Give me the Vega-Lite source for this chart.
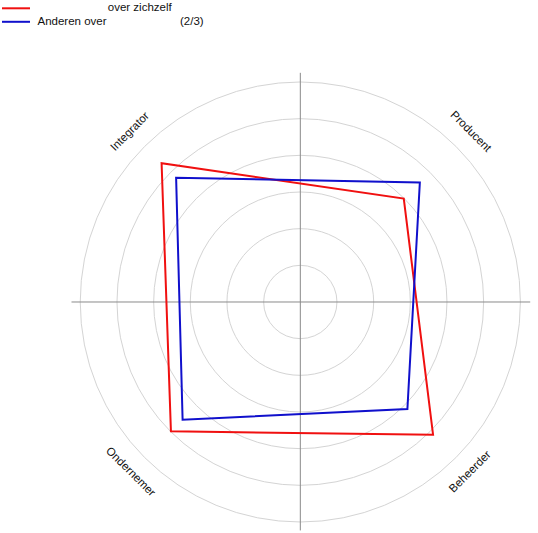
{
  "$schema": "https://vega.github.io/schema/vega-lite/v6.json",
  "autosize": "none",
  "padding": 0,
  "width": 538,
  "height": 533,
  "background": "white",
  "config": {
    "view": {"stroke": null},
    "font": "Liberation Sans"
  },
  "datasets": {
    "scores": [
      {"series": "\u200b\u00a0\u00a0\u00a0\u00a0\u00a0\u00a0\u00a0\u00a0\u00a0\u00a0\u00a0\u00a0\u00a0\u00a0\u00a0\u00a0\u00a0\u00a0\u00a0\u00a0\u00a0\u00a0over zichzelf", "role": "Producent", "value": 3.99},
      {"series": "\u200b\u00a0\u00a0\u00a0\u00a0\u00a0\u00a0\u00a0\u00a0\u00a0\u00a0\u00a0\u00a0\u00a0\u00a0\u00a0\u00a0\u00a0\u00a0\u00a0\u00a0\u00a0\u00a0over zichzelf", "role": "Beheerder", "value": 5.12},
      {"series": "\u200b\u00a0\u00a0\u00a0\u00a0\u00a0\u00a0\u00a0\u00a0\u00a0\u00a0\u00a0\u00a0\u00a0\u00a0\u00a0\u00a0\u00a0\u00a0\u00a0\u00a0\u00a0\u00a0over zichzelf", "role": "Ondernemer", "value": 4.99},
      {"series": "\u200b\u00a0\u00a0\u00a0\u00a0\u00a0\u00a0\u00a0\u00a0\u00a0\u00a0\u00a0\u00a0\u00a0\u00a0\u00a0\u00a0\u00a0\u00a0\u00a0\u00a0\u00a0\u00a0over zichzelf", "role": "Integrator", "value": 5.35},
      {"series": "Anderen over\u00a0\u00a0\u00a0\u00a0\u00a0\u00a0\u00a0\u00a0\u00a0\u00a0\u00a0\u00a0\u00a0\u00a0\u00a0\u00a0\u00a0\u00a0\u00a0\u00a0\u00a0\u00a0\u00a0(2/3)", "role": "Producent", "value": 4.61},
      {"series": "Anderen over\u00a0\u00a0\u00a0\u00a0\u00a0\u00a0\u00a0\u00a0\u00a0\u00a0\u00a0\u00a0\u00a0\u00a0\u00a0\u00a0\u00a0\u00a0\u00a0\u00a0\u00a0\u00a0\u00a0(2/3)", "role": "Beheerder", "value": 4.13},
      {"series": "Anderen over\u00a0\u00a0\u00a0\u00a0\u00a0\u00a0\u00a0\u00a0\u00a0\u00a0\u00a0\u00a0\u00a0\u00a0\u00a0\u00a0\u00a0\u00a0\u00a0\u00a0\u00a0\u00a0\u00a0(2/3)", "role": "Ondernemer", "value": 4.54},
      {"series": "Anderen over\u00a0\u00a0\u00a0\u00a0\u00a0\u00a0\u00a0\u00a0\u00a0\u00a0\u00a0\u00a0\u00a0\u00a0\u00a0\u00a0\u00a0\u00a0\u00a0\u00a0\u00a0\u00a0\u00a0(2/3)", "role": "Integrator", "value": 4.79}
    ],
    "rings": [{"r": 1}, {"r": 2}, {"r": 3}, {"r": 4}, {"r": 5}, {"r": 6}],
    "roles": [{"role": "Producent"}, {"role": "Beheerder"}, {"role": "Ondernemer"}, {"role": "Integrator"}]
  },
  "layer": [
    {
      "data": {"name": "rings"},
      "mark": {"type": "arc", "theta": 0, "theta2": 6.283185307179586, "fill": null, "filled": false, "stroke": "#d4d4d4", "strokeWidth": 1},
      "encoding": {
        "x": {"datum": 0, "type": "quantitative", "scale": {"domain": [-8.19, 6.482], "nice": false, "zero": false}, "axis": null},
        "y": {"datum": 0, "type": "quantitative", "scale": {"domain": [-6.3, 8.236], "nice": false, "zero": false}, "axis": null},
        "radius": {"field": "r", "type": "quantitative", "stack": null, "scale": {"type": "linear", "domain": [0, 6], "range": [0, 220], "zero": true}, "legend": null}
      }
    },
    {
      "data": {"values": [{}]},
      "mark": {"type": "rule", "stroke": "#8a8a8a", "strokeWidth": 1},
      "encoding": {
        "x": {"datum": 0, "type": "quantitative"},
        "y": {"datum": -6.23, "type": "quantitative"},
        "y2": {"datum": 6.25}
      }
    },
    {
      "data": {"values": [{}]},
      "mark": {"type": "rule", "stroke": "#8a8a8a", "strokeWidth": 1},
      "encoding": {
        "y": {"datum": 0, "type": "quantitative"},
        "x": {"datum": -6.24, "type": "quantitative"},
        "x2": {"datum": 6.27}
      }
    },
    {
      "data": {"name": "scores"},
      "transform": [
        {"calculate": "indexof(['Producent','Beheerder','Ondernemer','Integrator'], datum.role) * PI / 2 + PI / 4", "as": "a"},
        {"calculate": "datum.value * sin(datum.a)", "as": "px"},
        {"calculate": "datum.value * cos(datum.a)", "as": "py"}
      ],
      "mark": {"type": "line", "interpolate": "linear-closed", "strokeWidth": 2},
      "encoding": {
        "x": {"field": "px", "type": "quantitative"},
        "y": {"field": "py", "type": "quantitative"},
        "order": {"field": "a", "type": "quantitative"},
        "color": {
          "field": "series",
          "type": "nominal",
          "scale": {
            "domain": [
              "\u200b\u00a0\u00a0\u00a0\u00a0\u00a0\u00a0\u00a0\u00a0\u00a0\u00a0\u00a0\u00a0\u00a0\u00a0\u00a0\u00a0\u00a0\u00a0\u00a0\u00a0\u00a0\u00a0over zichzelf",
              "Anderen over\u00a0\u00a0\u00a0\u00a0\u00a0\u00a0\u00a0\u00a0\u00a0\u00a0\u00a0\u00a0\u00a0\u00a0\u00a0\u00a0\u00a0\u00a0\u00a0\u00a0\u00a0\u00a0\u00a0(2/3)"
            ],
            "range": ["#f01010", "#1010cc"]
          },
          "legend": {
            "title": null,
            "orient": "none",
            "legendX": 0,
            "legendY": 1.8,
            "padding": 0,
            "symbolType": "M-2.545,0H2.545",
            "symbolSize": 121,
            "symbolStrokeWidth": 2,
            "symbolFillColor": "transparent",
            "symbolOffset": 9.5,
            "labelOffset": 15,
            "rowPadding": 1.5,
            "labelFont": "Liberation Sans",
            "labelFontSize": 11.5,
            "labelColor": "#111111",
            "labelLimit": 400
          }
        }
      }
    },
    {
      "data": {"name": "roles"},
      "transform": [
        {"filter": "datum.role === 'Producent' || datum.role === 'Ondernemer'"},
        {"calculate": "indexof(['Producent','Beheerder','Ondernemer','Integrator'], datum.role) * PI / 2 + PI / 4", "as": "a"},
        {"calculate": "6.56 * sin(datum.a)", "as": "px"},
        {"calculate": "6.56 * cos(datum.a)", "as": "py"}
      ],
      "mark": {"type": "text", "angle": 45, "align": "center", "baseline": "middle", "fontSize": 11.5, "font": "Liberation Sans", "color": "#111111"},
      "encoding": {
        "x": {"field": "px", "type": "quantitative"},
        "y": {"field": "py", "type": "quantitative"},
        "text": {"field": "role"}
      }
    },
    {
      "data": {"name": "roles"},
      "transform": [
        {"filter": "datum.role === 'Beheerder' || datum.role === 'Integrator'"},
        {"calculate": "indexof(['Producent','Beheerder','Ondernemer','Integrator'], datum.role) * PI / 2 + PI / 4", "as": "a"},
        {"calculate": "6.56 * sin(datum.a)", "as": "px"},
        {"calculate": "6.56 * cos(datum.a)", "as": "py"}
      ],
      "mark": {"type": "text", "angle": -45, "align": "center", "baseline": "middle", "fontSize": 11.5, "font": "Liberation Sans", "color": "#111111"},
      "encoding": {
        "x": {"field": "px", "type": "quantitative"},
        "y": {"field": "py", "type": "quantitative"},
        "text": {"field": "role"}
      }
    }
  ]
}
